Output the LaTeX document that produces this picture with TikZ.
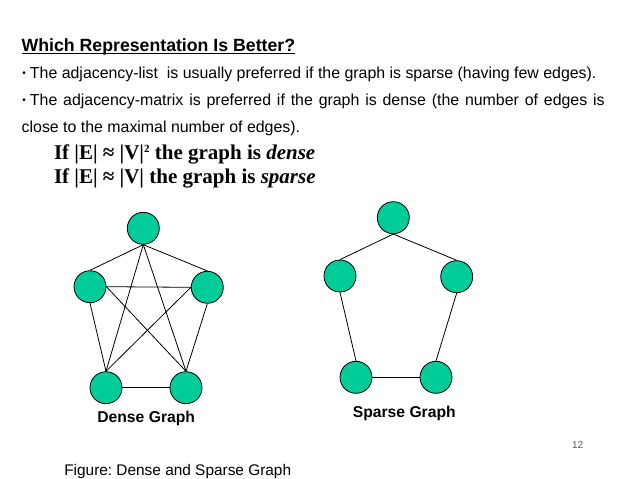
\documentclass[tikz,border=0pt]{standalone}
\usepackage{fontspec}
\setmainfont{Liberation Sans}
\newfontfamily\timesf{Liberation Serif}
\definecolor{nodegreen}{HTML}{00CC99}
\definecolor{pagegrey}{HTML}{595959}
\newcommand{\smallbul}{\makebox[8.3pt][l]{\hspace{0.6pt}\raisebox{1.7pt}{\fontsize{10}{12}\selectfont •}}}
\newcommand{\supertwo}{\raisebox{6.5pt}{\fontsize{11}{12}\selectfont 2}}
\tikzset{
  vtx/.style={circle,draw=black,line width=0.8pt,fill=nodegreen,minimum size=32pt,inner sep=0pt},
  edge/.style={draw=black,line width=0.8pt},
  txt/.style={anchor=base west,inner sep=0pt,outer sep=0pt},
  lbl/.style={anchor=base,inner sep=0pt,font=\fontsize{15.7}{18}\selectfont\bfseries}
}
\frenchspacing
\begin{document}
\frenchspacing
\begin{tikzpicture}[x=1pt,y=-1pt]
\useasboundingbox (0,0) rectangle (638,479);
\fill[white] (0,0) rectangle (638,479);
% texts
\node[txt,font=\fontsize{17.7}{20}\selectfont\bfseries] (title) at (21.7,51) {Which Representation Is Better?};
\draw[line width=1.4pt] ([yshift=-2.6pt]title.base west) -- ([yshift=-2.6pt]title.base east);
\node[txt,font=\fontsize{15.9}{19}\selectfont] (b1) at (21.7,78) {\smallbul The adjacency-list~ is usually preferred if the graph is sparse (having few edges).};
\node[txt,font=\fontsize{15.9}{19}\selectfont] (b2) at (21.7,105.5) {\makebox[583pt][s]{\smallbul The adjacency-matrix is preferred if the graph is dense (the number of edges is}};
\node[txt,font=\fontsize{15.9}{19}\selectfont] (b3) at (21.7,132.5) {close to the maximal number of edges).};
\node[txt,font=\timesf\fontsize{21}{24}\selectfont\bfseries] (m1) at (54,159) {If |E| ≈ |V|\supertwo{} the graph is \textit{dense}};
\node[txt,font=\timesf\fontsize{21}{24}\selectfont\bfseries] (m2) at (54,183.5) {If |E| ≈ |V| the graph is \textit{sparse}};
\node[txt,font=\fontsize{15.4}{18}\selectfont] (cap) at (64.3,475) {Figure: Dense and Sparse Graph};
\node[txt,font=\fontsize{10}{12}\selectfont,text=pagegrey] (pg) at (572,448) {12};
% dense graph
\node[vtx] (dt) at (143.3,228.3) {};
\node[vtx] (dl) at (90,286.7) {};
\node[vtx] (dr) at (207.3,287.3) {};
\node[vtx] (dbl) at (106,387.7) {};
\node[vtx] (dbr) at (186,387.7) {};
\path[edge] (dt.south) -- (dl.north);
\path[edge] (dt.south) -- (dr.north);
\path[edge] (dt.south) -- (dbl.north);
\path[edge] (dt.south) -- (dbr.north);
\path[edge] (dl.east) -- (dr.west);
\path[edge] (dl.east) -- (dbr.north);
\path[edge] (dr.west) -- (dbl.north);
\path[edge] (dl.south) -- (dbl.north);
\path[edge] (dr.south) -- (dbr.north);
\path[edge] (dbl.east) -- (dbr.west);
\node[lbl] (dlab) at (146.2,422.7) {Dense Graph};
% sparse graph
\node[vtx] (st) at (393.3,217.7) {};
\node[vtx] (sl) at (340,276) {};
\node[vtx] (sr) at (456.7,276.7) {};
\node[vtx] (sbl) at (356,377.3) {};
\node[vtx] (sbr) at (436,377.3) {};
\path[edge] (st.south) -- (sl.north);
\path[edge] (st.south) -- (sr.north);
\path[edge] (sl.south) -- (sbl.north);
\path[edge] (sr.south) -- (sbr.north);
\path[edge] (sbl.east) -- (sbr.west);
\node[lbl] (slab) at (404.3,417.3) {Sparse Graph};
\end{tikzpicture}
\end{document}
